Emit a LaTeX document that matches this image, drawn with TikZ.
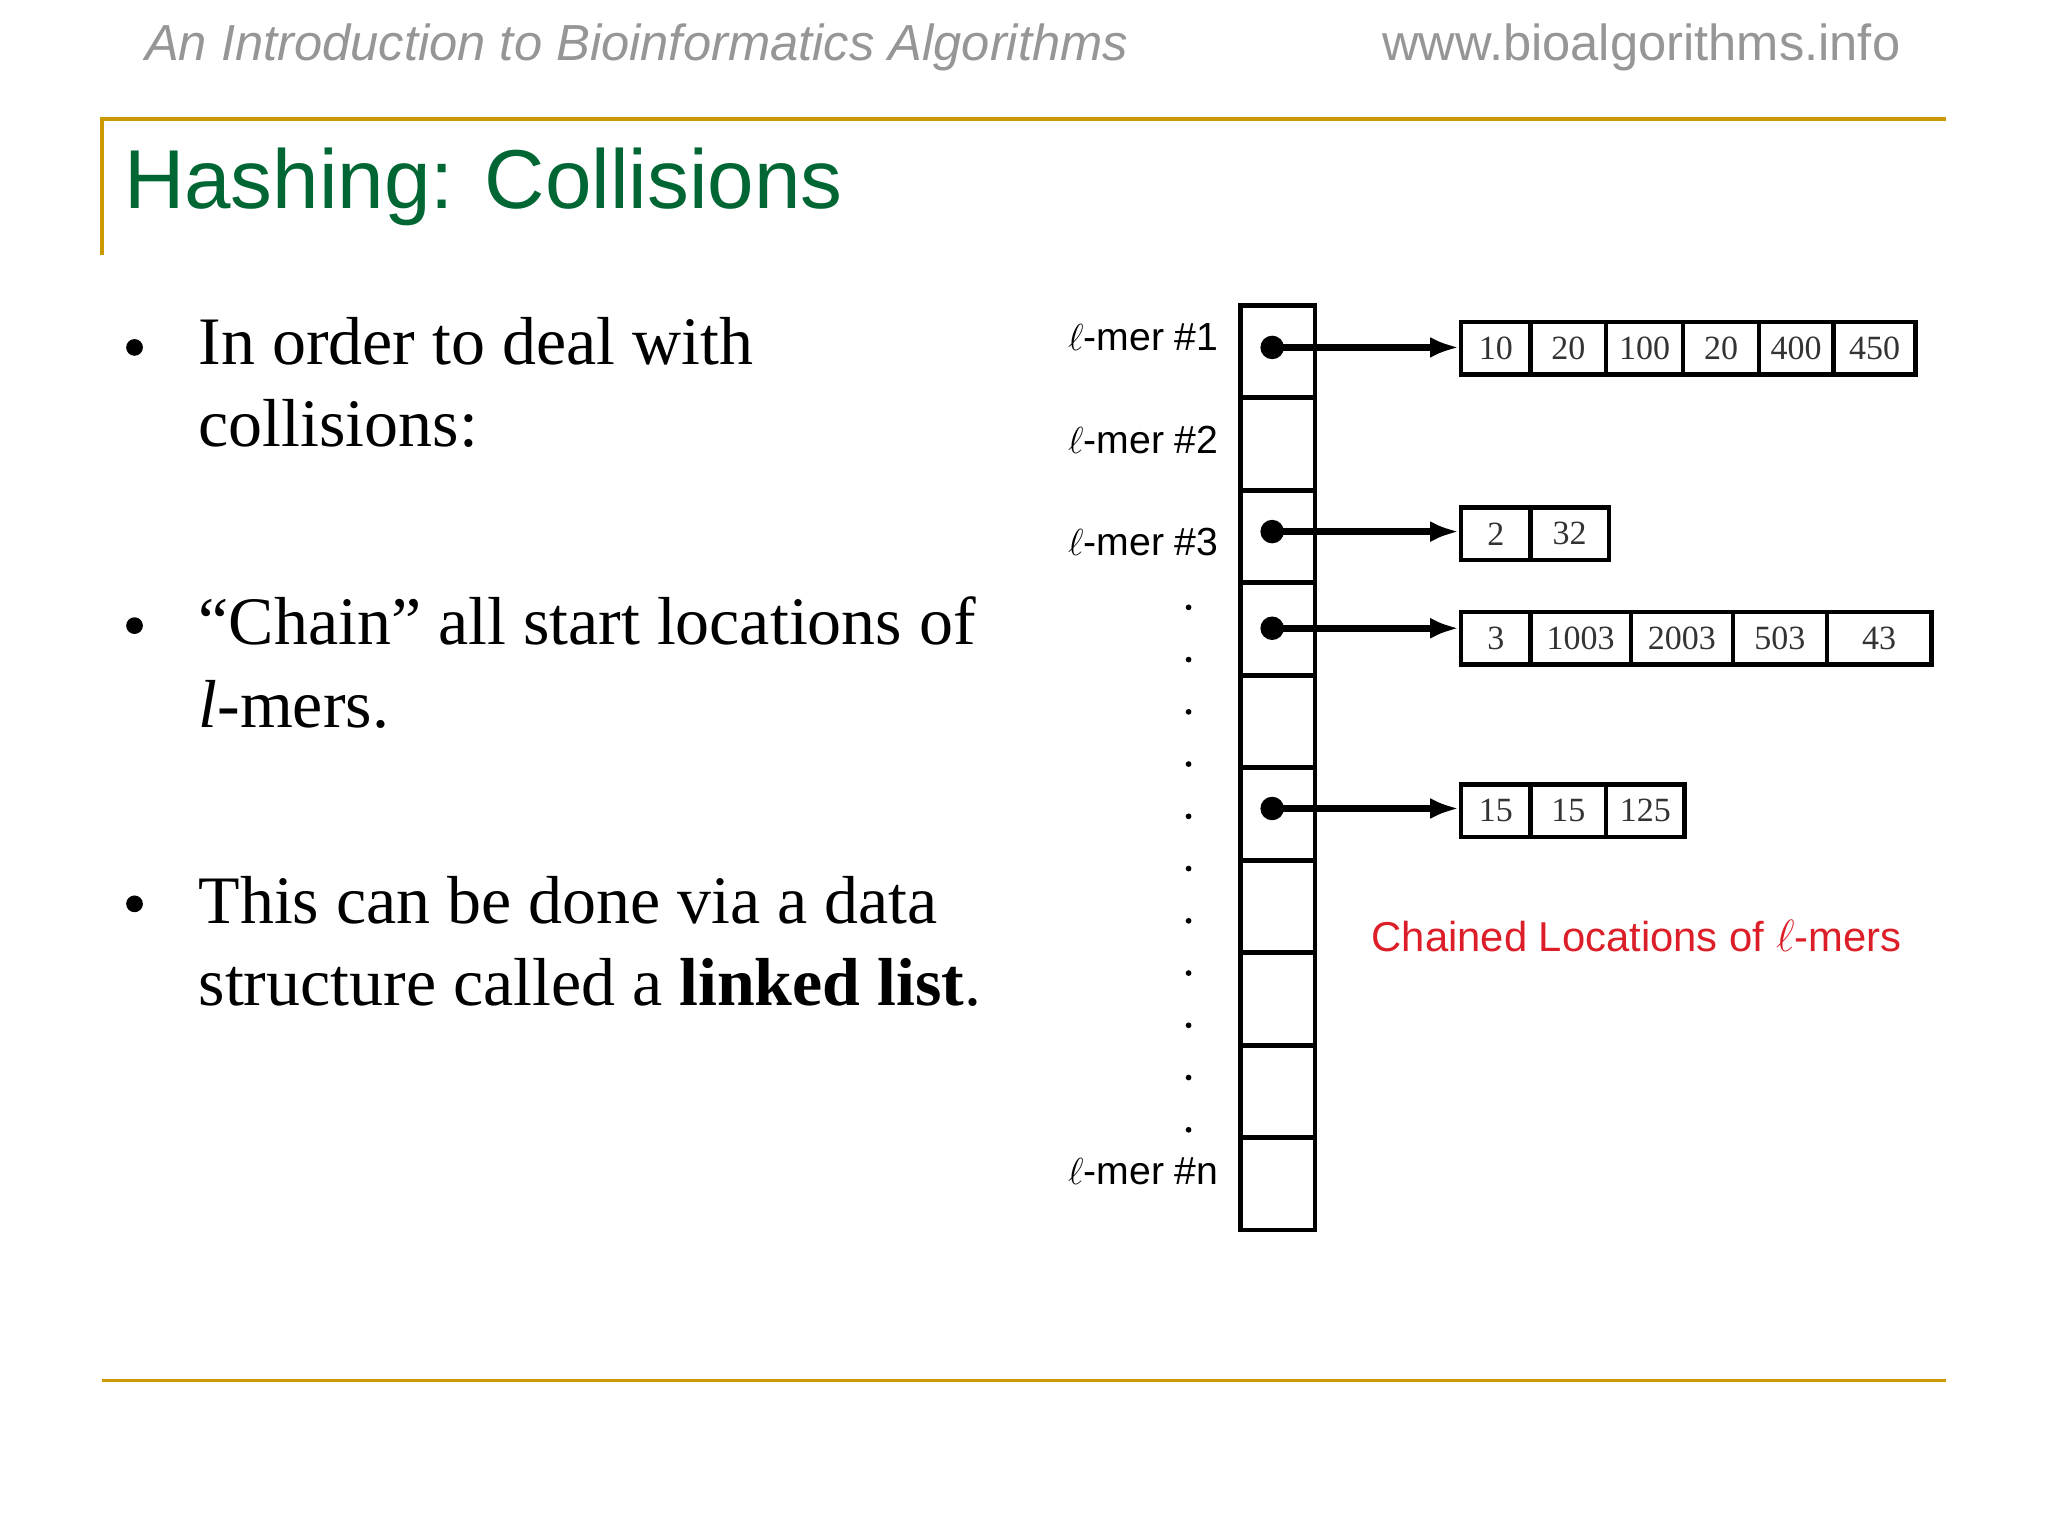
\documentclass[tikz,border=0pt]{standalone}
\usepackage{fontspec}
\setmainfont{Liberation Serif}
\setsansfont{Liberation Sans}
\usetikzlibrary{arrows.meta}
\definecolor{gold}{RGB}{204,153,0}
\definecolor{tgreen}{RGB}{0,102,51}
\definecolor{hgray}{RGB}{150,150,150}
\definecolor{cred}{RGB}{220,30,40}
\begin{document}
\begin{tikzpicture}[x=0.5pt,y=-0.5pt,
  cellbox/.style={draw,line width=1.8pt},
  lst/.style={draw,line width=1.7pt},
  ptr/.style={line width=2.6pt,-{Latex[length=11pt,width=8pt]}},
  lab/.style={font=\sffamily\fontsize{15}{18}\selectfont,anchor=east},
  num/.style={font=\fontsize{13}{15}\selectfont,text=black!80}]
\useasboundingbox (0,0) rectangle (1568,1176);
\fill[white] (0,0) rectangle (1568,1176);
% header
\node[anchor=west,font=\sffamily\itshape\fontsize{19.4}{22}\selectfont,text=hgray] (h1) at (104,36) {An Introduction to Bioinformatics Algorithms};
\node[anchor=east,font=\sffamily\fontsize{19.4}{22}\selectfont,text=hgray] (h2) at (1462,36) {www.bioalgorithms.info};
\draw[gold,line width=1.3pt] (78,195) -- (78,91) -- (1490,91);
\draw[gold,line width=1.3pt] (78,1057) -- (1490,1057);
\node[anchor=west,font=\sffamily\fontsize{32}{36}\selectfont,text=tgreen] (t) at (88,143) {Hashing: Collisions};
% bullets
\begin{scope}[every node/.style={anchor=north west,font=\fontsize{26}{31.5}\selectfont,align=left}]
\node (b1) at (145,236) {In order to deal with\\collisions:};
\node (b2) at (145,450) {``Chain'' all start locations of\\\textit{l}-mers.};
\node (b3) at (145,664) {This can be done via a data\\structure called a \textbf{linked list}.};
\end{scope}
\foreach \y [count=\n] in {266,479,692} \fill (103,\y) circle (3.2pt);
% array
\foreach \i in {0,...,9} {
  \node[cellbox,minimum width=28.5pt,minimum height=35.4pt,inner sep=0pt,anchor=north west] (c\i) at (948,{232+70.8*\i}) {};
}
\node[lab] (l1) at (940,258) {$\ell$-mer \#1};
\node[lab] (l2) at (940,337) {$\ell$-mer \#2};
\node[lab] (l3) at (940,415) {$\ell$-mer \#3};
\node[lab] (ln) at (940,897) {$\ell$-mer \#n};
\foreach \k in {0,...,10} \fill (910,{465+40*\k}) circle (1.1pt);
% lists
\newcommand\mklist[3]{%
  \foreach \xa/\xb/\t [count=\j] in {#3} {
    \node[lst,num,minimum height=20pt,minimum width={(\xb-\xa)*0.5pt},inner sep=0pt,anchor=north west] (#1\j) at (\xa,#2) {\t};
  }}
\mklist{la}{245}{1117/1170/10,1170/1228/20,1228/1287/100,1287/1345/20,1345/1402/400,1402/1465/450}
\mklist{lb}{387}{1117/1170/2,1170/1230/32}
\mklist{lc}{467}{1117/1170/3,1170/1247/1003,1247/1325/2003,1325/1397/503,1397/1477/43}
\mklist{ld}{599}{1117/1170/15,1170/1228/15,1228/1288/125}
\foreach \c/\l/\y in {c0/la1/266,c2/lb1/407,c3/lc1/481,c5/ld1/619} {
  \coordinate (s\c) at (974,\y);
  \fill (s\c) circle (4.5pt);
  \draw[ptr] (s\c) -- (s\c -| \l.west);
}
\node[font=\sffamily\fontsize{16}{19}\selectfont,text=cred] (red) at (1253,717) {Chained Locations of $\ell$-mers};
\end{tikzpicture}
\end{document}
